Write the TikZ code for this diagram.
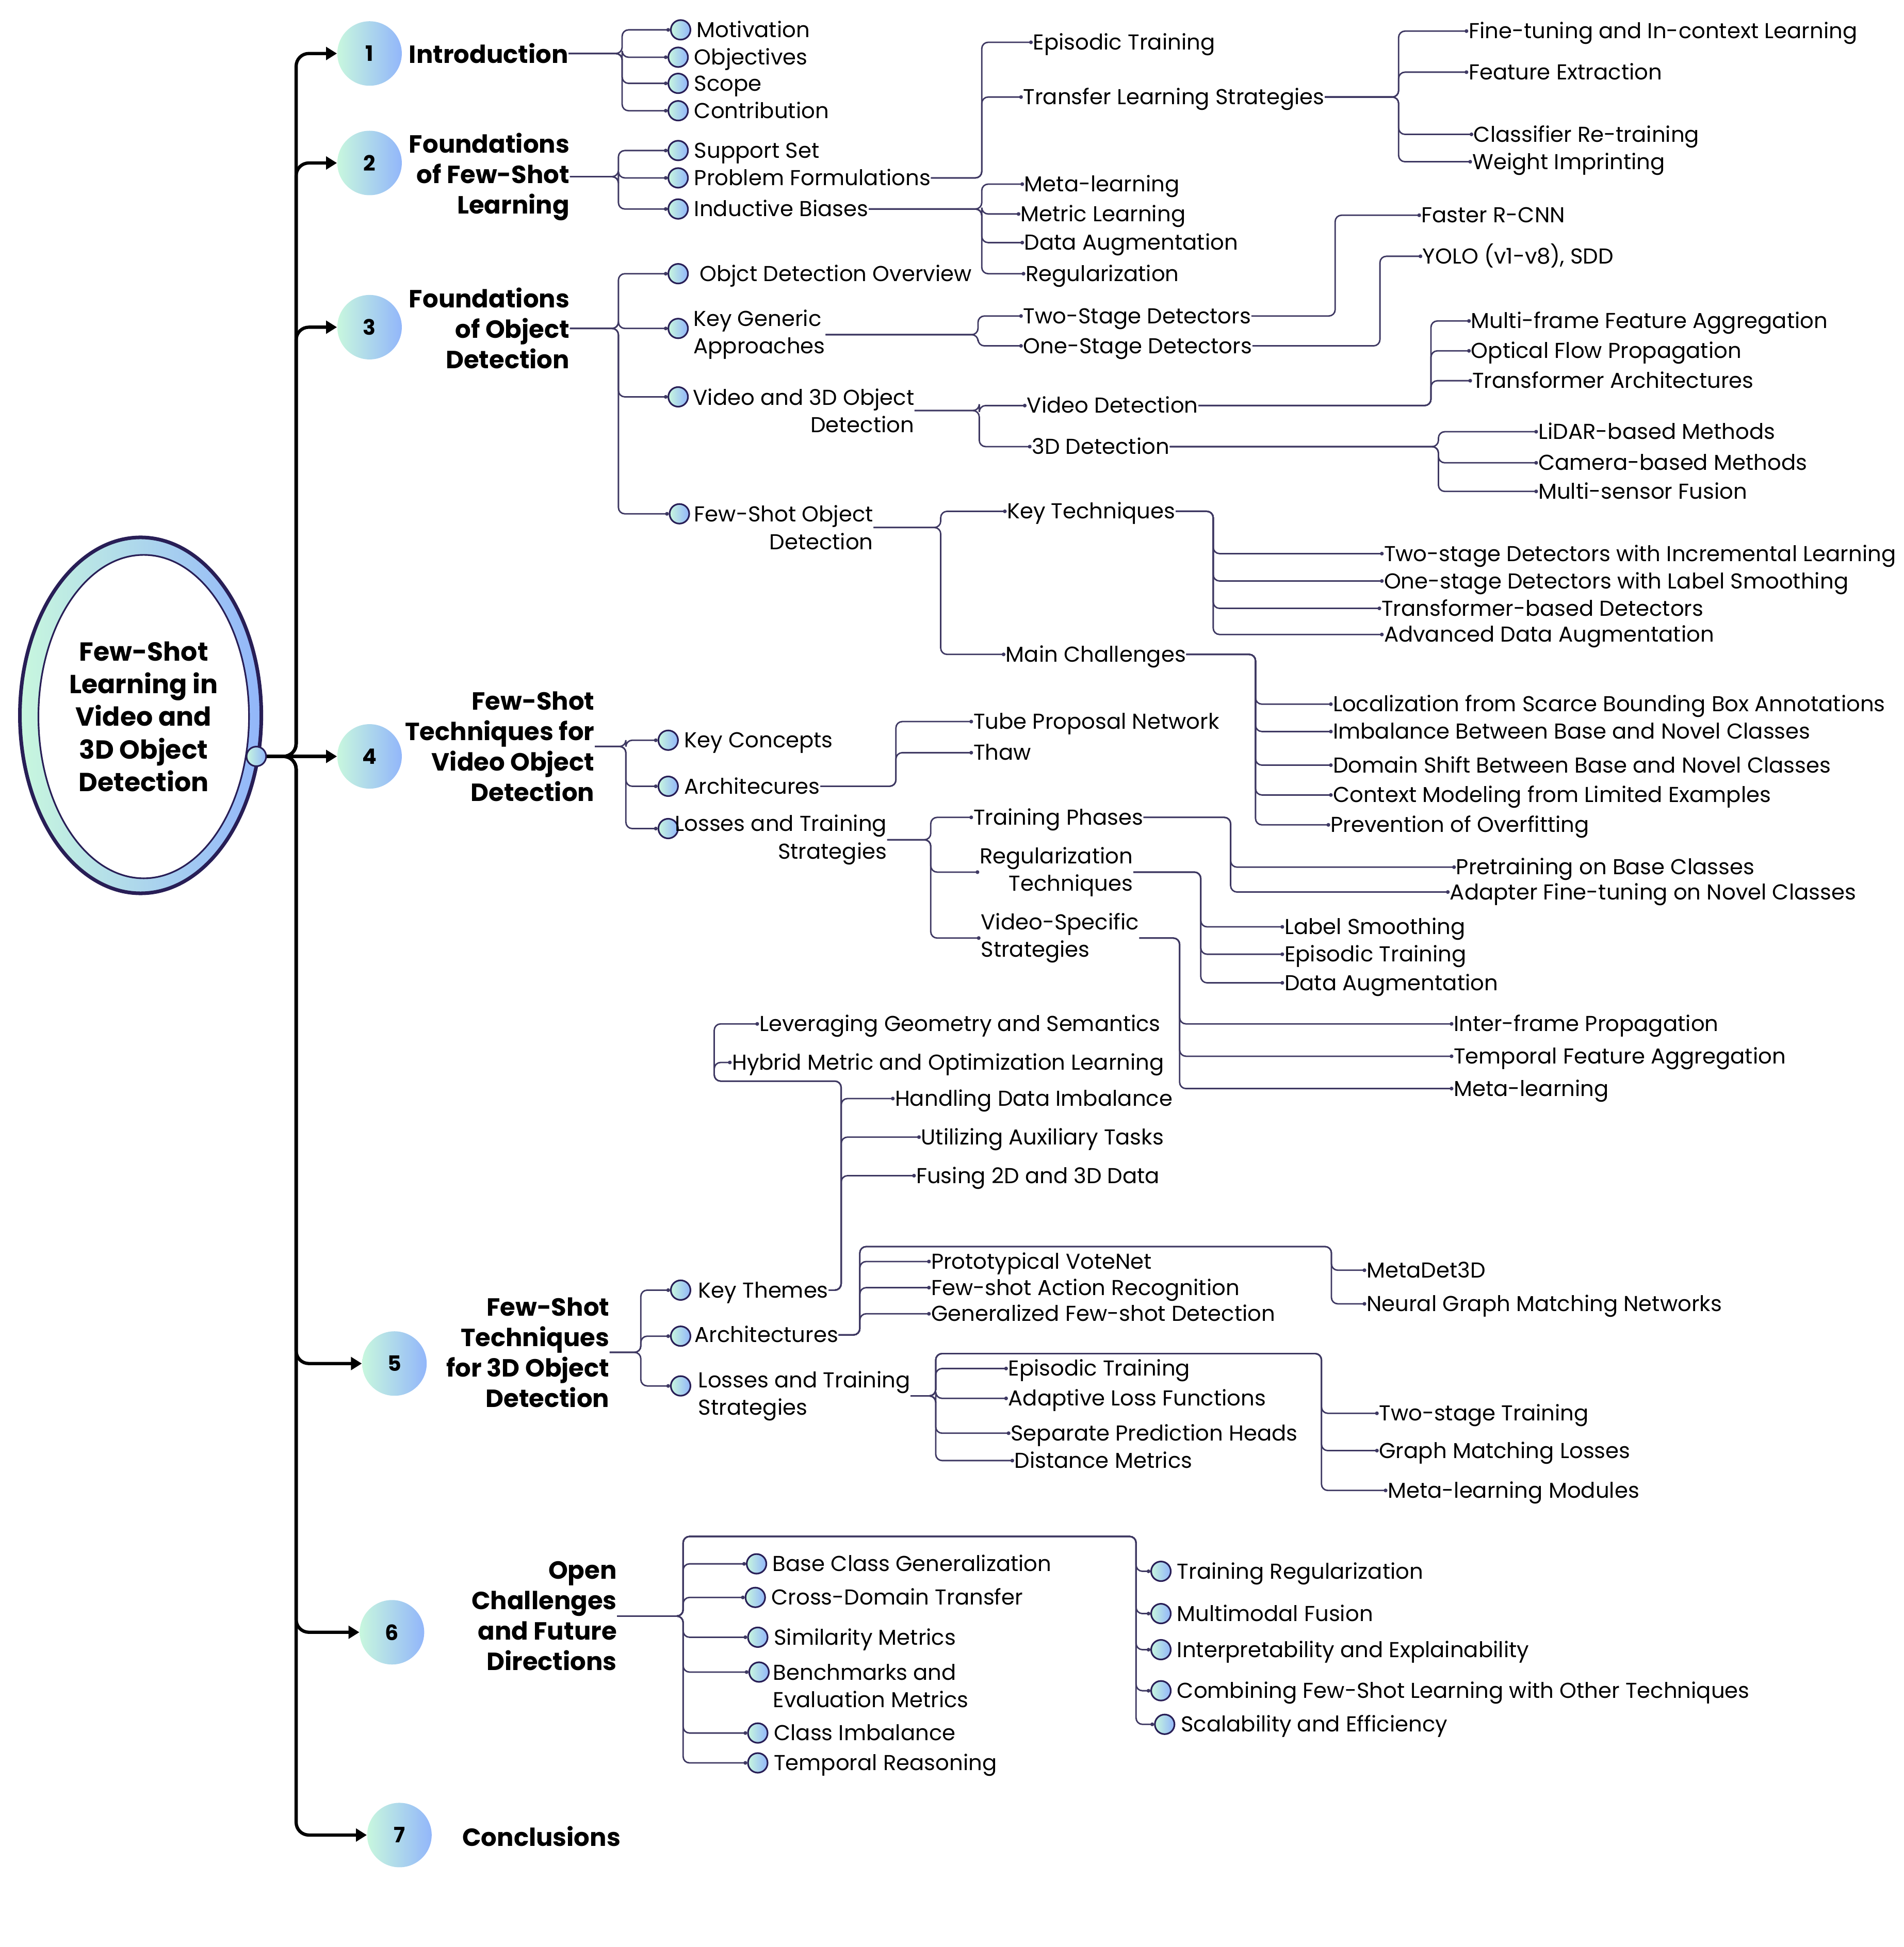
\documentclass[tikz,border=0pt]{standalone}
\usepackage{fontspec}
\setmainfont{Poppins}
\usetikzlibrary{
  shapes.geometric,
  positioning,
  calc,
  arrows.meta}

\definecolor{mintcolor}{RGB}{200,247,222}
\definecolor{skycolor}{RGB}{146,182,250}
\definecolor{edgecolor}{RGB}{62,56,98}
\definecolor{rimcolor}{RGB}{40,30,86}

\newcommand\leaffont{\fontsize{11.9}{15.1}\selectfont}
\newcommand\secfont{\bfseries\fontsize{13.7}{16.8}\selectfont}
\newcommand\rootfont{\bfseries\fontsize{14.4}{18}\selectfont}

%% \twig{parent}{x of the junction}{child}
\newcommand\twig[3]{\draw [conn] (#1.east) -| (#2,0 |- #3) -- (#3);}

\tikzset{
  %% rootring : gradient ring of the central ellipse
  rootring/.style={
    ellipse,
    draw=rimcolor,
    line width=2pt,
    left color=mintcolor,
    right color=skycolor,
    minimum width=46.8mm,
    minimum height=69mm,
    inner sep=0pt
  },
  %% rootcore : white inside of the central ellipse
  rootcore/.style={
    ellipse,
    draw=rimcolor,
    line width=0.9pt,
    fill=white,
    minimum width=40.8mm,
    minimum height=62.7mm,
    inner sep=0pt,
    align=center,
    font=\rootfont
  },
  %% secnum : numbered disc of a section
  secnum/.style={
    circle,
    minimum size=12.5mm,
    inner sep=0pt,
    left color=mintcolor,
    right color=skycolor,
    font=\bfseries\fontsize{11.7}{14}\selectfont
  },
  %% seclabel : title of a section
  seclabel/.style={
    font=\secfont,
    align=right,
    anchor=east,
    inner sep=0pt
  },
  %% dot : bullet in front of a topic
  dot/.style={
    circle,
    minimum size=3.8mm,
    inner sep=0pt,
    draw=rimcolor,
    line width=0.9pt,
    left color=mintcolor,
    right color=skycolor
  },
  %% leaf : one line topic
  leaf/.style={
    font=\leaffont,
    anchor=west,
    inner sep=0pt,
    text height=8.3pt,
    text depth=0pt
  },
  %% leafm : topic on two lines
  leafm/.style={
    font=\leaffont,
    inner sep=0pt
  },
  %% conn : thin elbow connection
  conn/.style={
    draw=edgecolor,
    line width=0.8pt,
    rounded corners=3.5pt,
    -{Circle[length=2pt]}
  },
  %% trunk : thick arrow to a section
  trunk/.style={
    draw=black,
    line width=1.8pt,
    rounded corners=7pt,
    -{Triangle[length=6pt, width=7pt]}
  }
}

\begin{document}
\begin{tikzpicture}
  [x=0.2412mm,
  y=-0.2412mm,
  node distance=1mm]

  \useasboundingbox (0,0) rectangle (1530,1565);

  %% central ellipse
  \node (root) [rootring] at (113,575) {};
  \node (root_core) [rootcore] at (115.5,576) {%
    Few-Shot\\Learning in\\Video and\\3D Object\\Detection};
  \node (hub) [dot] at (206,608) {};

  %% sections
  \node (sec1) [secnum] at (297,43) {1};
  \node (sec2) [secnum] at (297,131) {2};
  \node (sec3) [secnum] at (297,263) {3};
  \node (sec4) [secnum] at (297,608) {4};
  \node (sec5) [secnum] at (317,1096) {5};
  \node (sec6) [secnum] at (315,1312) {6};
  \node (sec7) [secnum] at (321,1475) {7};

  \node (sec1_title) [seclabel] at (457,43) {Introduction};
  \node (sec2_title) [seclabel] at (458,142) {%
    Foundations\\of Few-Shot\\Learning};
  \node (sec3_title) [seclabel] at (458,264) {%
    Foundations\\of Object\\Detection};
  \node (sec4_title) [seclabel] at (478,600) {%
    Few-Shot\\Techniques for\\Video Object\\Detection};
  \node (sec5_title) [seclabel] at (490,1087) {%
    Few-Shot\\Techniques\\for 3D Object\\Detection};
  \node (sec6_title) [seclabel] at (496,1299) {%
    Open\\Challenges\\and Future\\Directions};
  \node (sec7_title) [seclabel] at (499,1476) {Conclusions};

  %% trunk
  \draw [trunk] (hub.east) -| (238,0 |- sec1) -- (sec1);
  \draw [trunk] (hub.east) -| (238,0 |- sec2) -- (sec2);
  \draw [trunk] (hub.east) -| (238,0 |- sec3) -- (sec3);
  \draw [trunk] (hub.east) -- (sec4);
  \draw [trunk] (hub.east) -| (238,0 |- sec5) -- (sec5);
  \draw [trunk] (hub.east) -| (238,0 |- sec6) -- (sec6);
  \draw [trunk] (hub.east) -| (238,0 |- sec7) -- (sec7);


  %% 1 Introduction
  \node (mot_dot) [dot] at (547,24) {};
  \node (mot) [leaf, right=of mot_dot] {Motivation};
  \node (obj_dot) [dot] at (545,46) {};
  \node (obj) [leaf, right=of obj_dot] {Objectives};
  \node (scp_dot) [dot] at (545,67) {};
  \node (scp) [leaf, right=of scp_dot] {Scope};
  \node (ctb_dot) [dot] at (545,89) {};
  \node (ctb) [leaf, right=of ctb_dot] {Contribution};
  \twig{sec1_title}{500}{mot_dot}
  \twig{sec1_title}{500}{obj_dot}
  \twig{sec1_title}{500}{scp_dot}
  \twig{sec1_title}{500}{ctb_dot}


  %% 2 Foundations of few-shot learning
  \node (sup_dot) [dot] at (545,121) {};
  \node (sup) [leaf, right=of sup_dot] {Support Set};
  \node (prf_dot) [dot] at (545,143) {};
  \node (prf) [leaf, right=of prf_dot] {Problem Formulations};
  \node (ind_dot) [dot] at (545,168) {};
  \node (ind) [leaf, right=of ind_dot] {Inductive Biases};
  \twig{sec2_title}{497}{sup_dot}
  \twig{sec2_title}{497}{prf_dot}
  \twig{sec2_title}{497}{ind_dot}

  \node (epi_a) [leaf] at (830,34) {Episodic Training};
  \node (tls) [leaf] at (822,78) {Transfer Learning Strategies};
  \twig{prf}{789}{epi_a}
  \twig{prf}{789}{tls}

  \node (ftl) [leaf] at (1180,25) {Fine-tuning and In-context Learning};
  \node (fex) [leaf] at (1180,58) {Feature Extraction};
  \node (crt) [leaf] at (1184,108) {Classifier Re-training};
  \node (wim) [leaf] at (1183,130) {Weight Imprinting};
  \twig{tls}{1124}{ftl}
  \twig{tls}{1124}{fex}
  \twig{tls}{1124}{crt}
  \twig{tls}{1124}{wim}

  \node (mtl_a) [leaf] at (823,148) {Meta-learning};
  \node (mel) [leaf] at (820,172) {Metric Learning};
  \node (dau_a) [leaf] at (823,195) {Data Augmentation};
  \node (reg_a) [leaf] at (824,220) {Regularization};
  \twig{ind}{789}{mtl_a}
  \twig{ind}{789}{mel}
  \twig{ind}{789}{dau_a}
  \twig{ind}{789}{reg_a}


  %% 3 Foundations of object detection
  \node (odo_dot) [dot] at (545,220) {};
  \node (odo) [leaf] at (562,220) {Objct Detection Overview};
  \node (kga_dot) [dot] at (545,264) {};
  \node (kga) [leafm, align=left, anchor=west] at (557,269) {%
    Key Generic\\Approaches};
  \node (vod_dot) [dot] at (545,319) {};
  \node (vod) [leafm, align=right, anchor=east] at (735,330) {%
    Video and 3D Object\\Detection};
  \node (fsd_dot) [dot] at (546,413) {};
  \node (fsd) [leafm, align=right, anchor=east] at (702,424) {%
    Few-Shot Object\\Detection};
  \twig{sec3_title}{497}{odo_dot}
  \twig{sec3_title}{497}{kga_dot}
  \twig{sec3_title}{497}{vod_dot}
  \twig{sec3_title}{497}{fsd_dot}

  \node (tsd) [leaf] at (822,254) {Two-Stage Detectors};
  \node (osd) [leaf] at (822,278) {One-Stage Detectors};
  \twig{kga}{786}{tsd}
  \twig{kga}{786}{osd}
  \node (frc) [leaf] at (1142,173) {Faster R-CNN};
  \node (yolo) [leaf] at (1143,206) {YOLO (v1-v8), SDD};
  \twig{tsd}{1073}{frc}
  \twig{osd}{1109}{yolo}

  \node (vdt) [leaf] at (825,326) {Video Detection};
  \node (tdd) [leaf] at (829,359) {3D Detection};
  \twig{vod}{787}{vdt}
  \twig{vod}{787}{tdd}
  \node (mfa) [leaf] at (1182,258) {Multi-frame Feature Aggregation};
  \node (ofp) [leaf] at (1182,282) {Optical Flow Propagation};
  \node (tra) [leaf] at (1183,306) {Transformer Architectures};
  \twig{vdt}{1150}{mfa}
  \twig{vdt}{1150}{ofp}
  \twig{vdt}{1150}{tra}
  \node (lid) [leaf] at (1236,347) {LiDAR-based Methods};
  \node (cam) [leaf] at (1236,372) {Camera-based Methods};
  \node (msf) [leaf] at (1236,395) {Multi-sensor Fusion};
  \twig{tdd}{1156}{lid}
  \twig{tdd}{1156}{cam}
  \twig{tdd}{1156}{msf}

  \node (ktq) [leaf] at (809,411) {Key Techniques};
  \node (mch) [leaf] at (808,526) {Main Challenges};
  \twig{fsd}{756}{ktq}
  \twig{fsd}{756}{mch}
  \node (tdi) [leaf] at (1112,445) {Two-stage Detectors with Incremental Learning};
  \node (odl) [leaf] at (1112,467) {One-stage Detectors with Label Smoothing};
  \node (tbd) [leaf] at (1110,489) {Transformer-based Detectors};
  \node (ada) [leaf] at (1112,510) {Advanced Data Augmentation};
  \twig{ktq}{975}{tdi}
  \twig{ktq}{975}{odl}
  \twig{ktq}{975}{tbd}
  \twig{ktq}{975}{ada}
  \node (loc) [leaf] at (1071,566) {Localization from Scarce Bounding Box Annotations};
  \node (imb) [leaf] at (1071,588) {Imbalance Between Base and Novel Classes};
  \node (dsh) [leaf] at (1071,615) {Domain Shift Between Base and Novel Classes};
  \node (cmo) [leaf] at (1071,639) {Context Modeling from Limited Examples};
  \node (pov) [leaf] at (1069,663) {Prevention of Overfitting};
  \twig{mch}{1009}{loc}
  \twig{mch}{1009}{imb}
  \twig{mch}{1009}{dsh}
  \twig{mch}{1009}{cmo}
  \twig{mch}{1009}{pov}


  %% 4 Few-shot techniques for video object detection
  \node (kcp_dot) [dot] at (537,595) {};
  \node (kcp) [leaf, right=of kcp_dot] {Key Concepts};
  \node (arc_dot) [dot] at (537,632) {};
  \node (arc) [leaf, right=of arc_dot] {Architecures};
  \node (ltv_dot) [dot] at (537,666) {};
  \node (ltv) [leafm, align=right, anchor=east] at (713,675) {%
    Losses and Training\\Strategies};
  \twig{sec4_title}{503}{kcp_dot}
  \twig{sec4_title}{503}{arc_dot}
  \twig{sec4_title}{503}{ltv_dot}

  \node (tpn) [leaf] at (782,580) {Tube Proposal Network};
  \node (thw) [leaf] at (782,605) {Thaw};
  \twig{arc}{720}{tpn}
  \twig{arc}{720}{thw}

  \node (trp) [leaf] at (782,657) {Training Phases};
  \node (rgt) [leafm, align=right, anchor=west] at (787,701) {%
    Regularization\\Techniques};
  \node (vss) [leafm, align=left, anchor=west] at (788,754) {%
    Video-Specific\\Strategies};
  \twig{ltv}{748}{trp}
  \twig{ltv}{748}{rgt}
  \twig{ltv}{748}{vss}
  \node (pbc) [leaf] at (1170,697) {Pretraining on Base Classes};
  \node (afn) [leaf] at (1165,717) {Adapter Fine-tuning on Novel Classes};
  \twig{trp}{989}{pbc}
  \twig{trp}{989}{afn}
  \node (lsm) [leaf] at (1032,745) {Label Smoothing};
  \node (epi_b) [leaf] at (1032,767) {Episodic Training};
  \node (dau_b) [leaf] at (1032,790) {Data Augmentation};
  \twig{rgt}{965}{lsm}
  \twig{rgt}{965}{epi_b}
  \twig{rgt}{965}{dau_b}
  \node (ifp) [leaf] at (1168,823) {Inter-frame Propagation};
  \node (tfa) [leaf] at (1168,849) {Temporal Feature Aggregation};
  \node (mtl_b) [leaf] at (1168,875) {Meta-learning};
  \twig{vss}{948}{ifp}
  \twig{vss}{948}{tfa}
  \twig{vss}{948}{mtl_b}


  %% 5 Few-shot techniques for 3D object detection
  \node (kth_dot) [dot] at (547,1037) {};
  \node (kth) [leaf] at (561,1037) {Key Themes};
  \node (ard_dot) [dot] at (547,1074) {};
  \node (ard) [leaf] at (558,1073) {Architectures};
  \node (ltd_dot) [dot] at (547,1114) {};
  \node (ltd) [leafm, align=left, anchor=west] at (561,1122) {%
    Losses and Training\\Strategies};
  \twig{sec5_title}{515}{kth_dot}
  \twig{sec5_title}{515}{ard_dot}
  \twig{sec5_title}{515}{ltd_dot}

  \node (lgs) [leaf] at (610,823) {Leveraging Geometry and Semantics};
  \node (hmo) [leaf] at (588,854) {Hybrid Metric and Optimization Learning};
  \node (hdi) [leaf] at (719,883) {Handling Data Imbalance};
  \node (uat) [leaf] at (740,914) {Utilizing Auxiliary Tasks};
  \node (fus) [leaf] at (736,945) {Fusing 2D and 3D Data};
  \draw [conn] (kth.east) -| (676,869) -| (574,0 |- lgs) -- (lgs);
  \draw [conn] (kth.east) -| (676,869) -| (574,0 |- hmo) -- (hmo);
  \twig{kth}{676}{hdi}
  \twig{kth}{676}{uat}
  \twig{kth}{676}{fus}

  \node (pvn) [leaf] at (748,1014) {Prototypical VoteNet};
  \node (far) [leaf] at (748,1035) {Few-shot Action Recognition};
  \node (gfd) [leaf] at (748,1056) {Generalized Few-shot Detection};
  \node (md3) [leaf] at (1098,1021) {MetaDet3D};
  \node (ngm) [leaf] at (1098,1048) {Neural Graph Matching Networks};
  \twig{ard}{691}{pvn}
  \twig{ard}{691}{far}
  \twig{ard}{691}{gfd}
  \draw [conn] (ard.east) -| (691,1002) -| (1070,0 |- md3) -- (md3);
  \draw [conn] (ard.east) -| (691,1002) -| (1070,0 |- ngm) -- (ngm);

  \node (epi_c) [leaf] at (810,1100) {Episodic Training};
  \node (alf) [leaf] at (810,1124) {Adaptive Loss Functions};
  \node (sph) [leaf] at (812,1152) {Separate Prediction Heads};
  \node (dme) [leaf] at (815,1174) {Distance Metrics};
  \node (tst) [leaf] at (1108,1136) {Two-stage Training};
  \node (gml) [leaf] at (1108,1166) {Graph Matching Losses};
  \node (mlm) [leaf] at (1115,1198) {Meta-learning Modules};
  \twig{ltd}{752}{epi_c}
  \twig{ltd}{752}{alf}
  \twig{ltd}{752}{sph}
  \twig{ltd}{752}{dme}
  \draw [conn] (ltd.east) -| (752,1088) -| (1062,0 |- tst) -- (tst);
  \draw [conn] (ltd.east) -| (752,1088) -| (1062,0 |- gml) -- (gml);
  \draw [conn] (ltd.east) -| (752,1088) -| (1062,0 |- mlm) -- (mlm);


  %% 6 Open challenges and future directions
  \node (bcg_dot) [dot] at (608,1257) {};
  \node (bcg) [leaf, right=of bcg_dot] {Base Class Generalization};
  \node (cdt_dot) [dot] at (607,1284) {};
  \node (cdt) [leaf, right=of cdt_dot] {Cross-Domain Transfer};
  \node (sim_dot) [dot] at (609,1316) {};
  \node (sim) [leaf, right=of sim_dot] {Similarity Metrics};
  \node (bem_dot) [dot] at (610,1344) {};
  \node (bem) [leafm, align=left, anchor=west] at (621,1355) {%
    Benchmarks and\\Evaluation Metrics};
  \node (cim_dot) [dot] at (609,1393) {};
  \node (cim) [leaf, right=of cim_dot] {Class Imbalance};
  \node (trs_dot) [dot] at (609,1417) {};
  \node (trs) [leaf, right=of trs_dot] {Temporal Reasoning};
  \twig{sec6_title}{549}{bcg_dot}
  \twig{sec6_title}{549}{cdt_dot}
  \twig{sec6_title}{549}{sim_dot}
  \twig{sec6_title}{549}{bem_dot}
  \twig{sec6_title}{549}{cim_dot}
  \twig{sec6_title}{549}{trs_dot}

  \node (trr_dot) [dot] at (933,1263) {};
  \node (trr) [leaf, right=of trr_dot] {Training Regularization};
  \node (mmf_dot) [dot] at (933,1297) {};
  \node (mmf) [leaf, right=of mmf_dot] {Multimodal Fusion};
  \node (iae_dot) [dot] at (933,1326) {};
  \node (iae) [leaf, right=of iae_dot] {Interpretability and Explainability};
  \node (cfs_dot) [dot] at (933,1359) {};
  \node (cfs) [leaf, right=of cfs_dot] {Combining Few-Shot Learning with Other Techniques};
  \node (sae_dot) [dot] at (936,1386) {};
  \node (sae) [leaf, right=of sae_dot] {Scalability and Efficiency};
  \draw [conn] (sec6_title.east) -| (549,1235) -| (913,0 |- trr_dot) -- (trr_dot);
  \draw [conn] (sec6_title.east) -| (549,1235) -| (913,0 |- mmf_dot) -- (mmf_dot);
  \draw [conn] (sec6_title.east) -| (549,1235) -| (913,0 |- iae_dot) -- (iae_dot);
  \draw [conn] (sec6_title.east) -| (549,1235) -| (913,0 |- cfs_dot) -- (cfs_dot);
  \draw [conn] (sec6_title.east) -| (549,1235) -| (913,0 |- sae_dot) -- (sae_dot);

\end{tikzpicture}
\end{document}
